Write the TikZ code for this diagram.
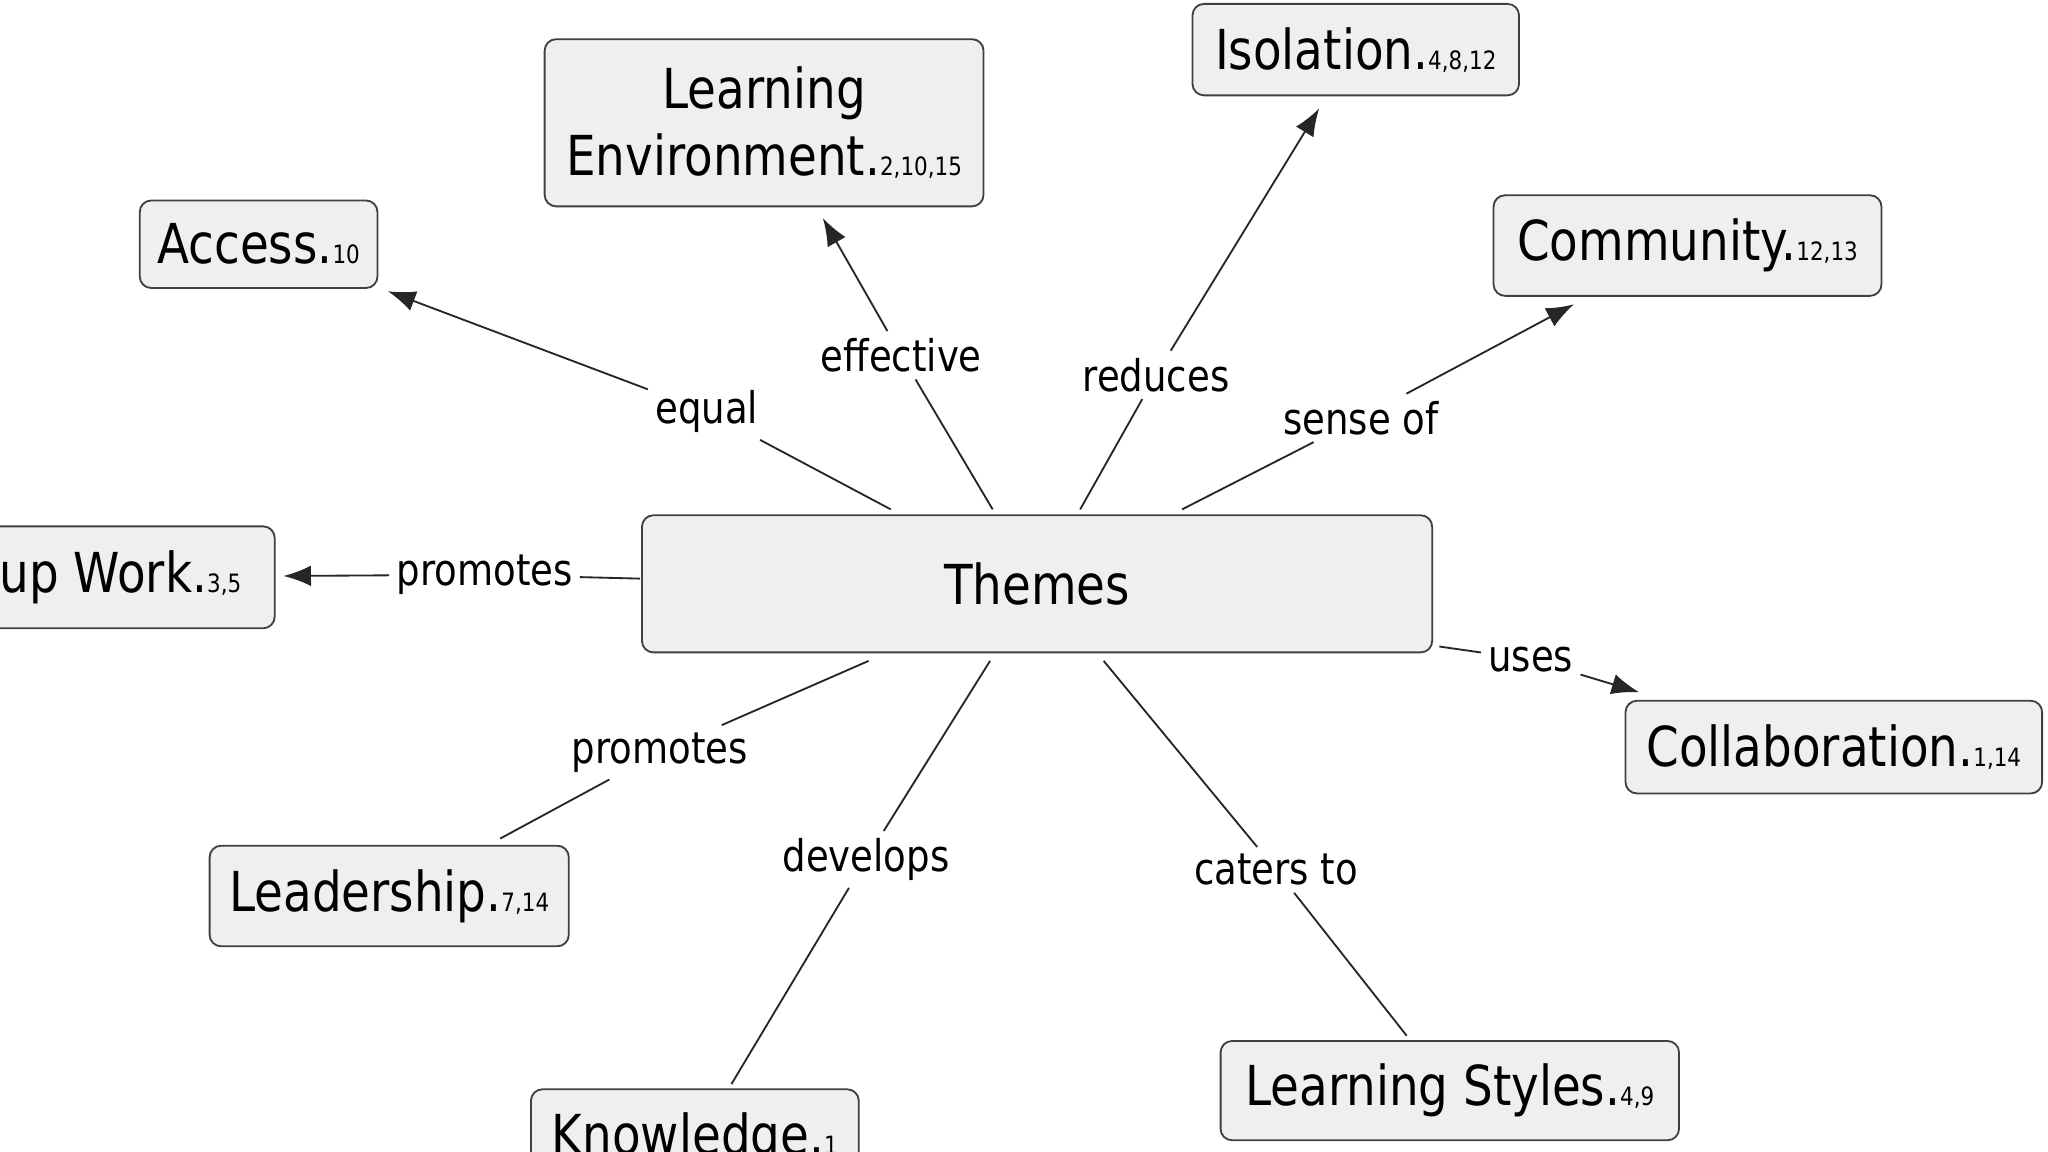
\documentclass[tikz,border=0pt]{standalone}
\usepackage{fontspec}
\setmainfont[FakeStretch=0.85]{DejaVu Sans}
\usetikzlibrary{arrows.meta}
\begin{document}
\begin{tikzpicture}[x=0.02cm,y=-0.02cm,
  concept/.style={draw=black!75,line width=0.8pt,rounded corners=5pt,fill=blue!3!gray!12,font=\fontsize{24}{28}\selectfont,align=center,inner sep=0pt},
  lab/.style={fill=white,inner sep=3pt,font=\fontsize{19}{22}\selectfont},
  link/.style={draw=black!85,line width=0.8pt},
  arr/.style={link,-{Latex[length=12pt,width=9pt]}}]
\newcommand{\refs}[1]{{\fontsize{11}{13}\selectfont #1}}
\clip (0,0) rectangle (1568,882);
\useasboundingbox (0,0) rectangle (1568,882);
\fill[white] (0,0) rectangle (1568,882);
\node[concept,minimum width=605*0.02cm,minimum height=105*0.02cm] (themes) at (794,447) {Themes};
\node[concept,minimum width=182*0.02cm,minimum height=67*0.02cm] (access) at (198,187) {Access.\refs{10}};
\node[concept,minimum width=336*0.02cm,minimum height=128*0.02cm,font=\fontsize{24}{29}\selectfont] (env) at (585,94) {Learning\\Environment.\refs{2,10,15}};
\node[concept,minimum width=250*0.02cm,minimum height=70*0.02cm] (iso) at (1038,38) {Isolation.\refs{4,8,12}};
\node[concept,minimum width=297*0.02cm,minimum height=77*0.02cm] (comm) at (1292,188) {Community.\refs{12,13}};
\node[concept,minimum width=300*0.02cm,minimum height=78*0.02cm,anchor=east] (group) at (211,442) {Group Work.\refs{3,5}};
\node[concept,minimum width=319*0.02cm,minimum height=71*0.02cm] (collab) at (1404,572) {Collaboration.\refs{1,14}};
\node[concept,minimum width=275*0.02cm,minimum height=77*0.02cm] (lead) at (298,686) {Leadership.\refs{7,14}};
\node[concept,minimum width=351*0.02cm,minimum height=76*0.02cm] (styles) at (1110,835) {Learning Styles.\refs{4,9}};
\node[concept,minimum width=251*0.02cm,minimum height=76*0.02cm] (know) at (532,872) {Knowledge.\refs{1}};
\node[lab] (l1) at (541,315) {equal};
\node[lab] (l2) at (690,272) {effective};
\node[lab] (l3) at (885,287) {reduces};
\node[lab] (l4) at (1042,320) {sense of};
\node[lab] (l5) at (371,440) {promotes};
\node[lab] (l6) at (1172,505) {uses};
\node[lab] (l7) at (505,576) {promotes};
\node[lab] (l8) at (663,658) {develops};
\node[lab] (l9) at (977,666) {caters to};
\coordinate (a1) at (682,390);
\coordinate (a2) at (760,390);
\coordinate (a3) at (827,390);
\coordinate (a4) at (905,390);
\coordinate (a5) at (490,443);
\coordinate (a6) at (1102,495);
\coordinate (a7) at (665,506);
\coordinate (a8) at (758,506);
\coordinate (a9) at (845,506);
\coordinate (e1) at (297,223);
\coordinate (e2) at (630,167);
\coordinate (e3) at (1010,83);
\coordinate (e4) at (1205,233);
\coordinate (e5) at (217,441);
\coordinate (e6) at (1255,530);
\coordinate (e7) at (383,642);
\coordinate (e8) at (560,830);
\coordinate (e9) at (1077,793);
\draw[link] (a1) -- (l1); \draw[arr] (l1) -- (e1);
\draw[link] (a2) -- (l2); \draw[arr] (l2) -- (e2);
\draw[link] (a3) -- (l3); \draw[arr] (l3) -- (e3);
\draw[link] (a4) -- (l4); \draw[arr] (l4) -- (e4);
\draw[link] (a5) -- (l5); \draw[arr] (l5) -- (e5);
\draw[link] (a6) -- (l6); \draw[arr] (l6) -- (e6);
\draw[link] (a7) -- (l7) -- (e7);
\draw[link] (a8) -- (l8) -- (e8);
\draw[link] (a9) -- (l9) -- (e9);
\end{tikzpicture}
\end{document}
